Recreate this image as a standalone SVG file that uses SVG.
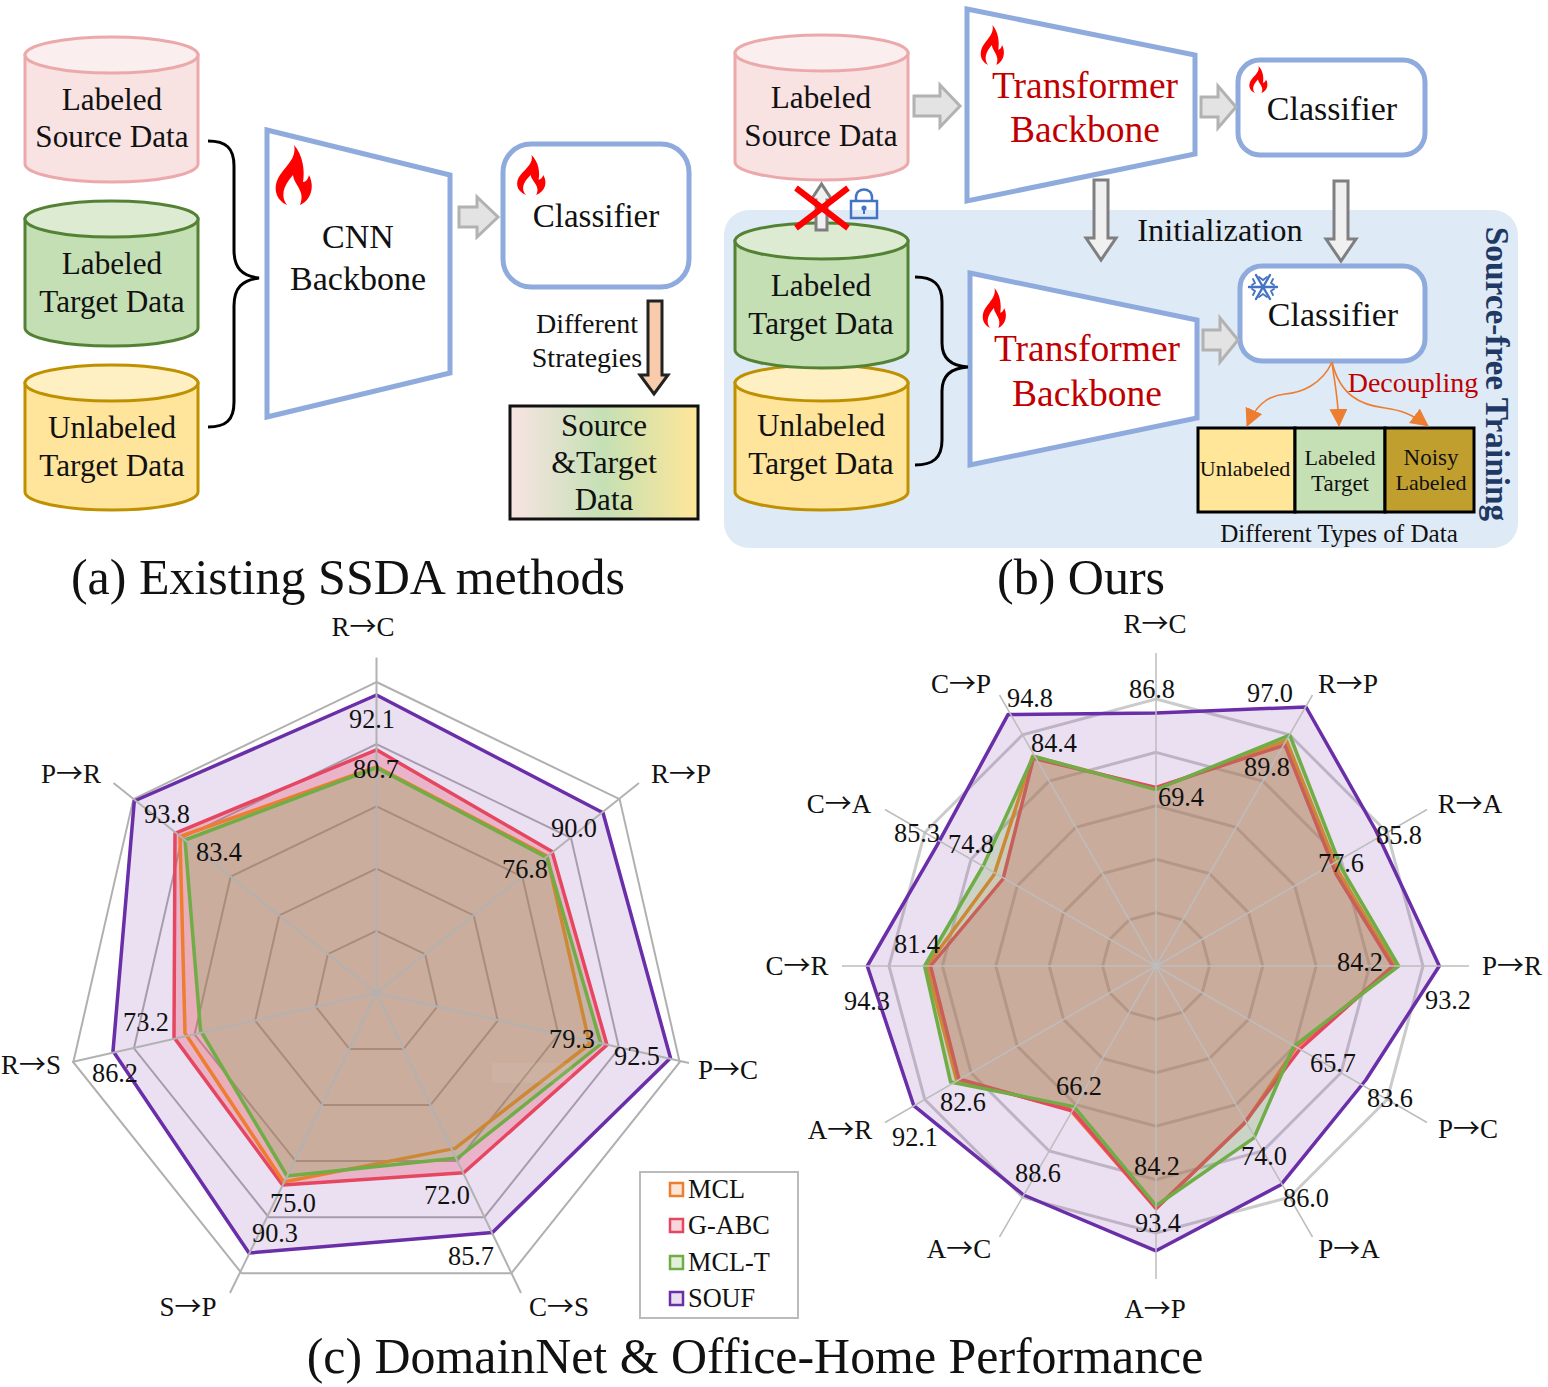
<svg xmlns="http://www.w3.org/2000/svg" width="1548" height="1387" viewBox="0 0 1548 1387">
<style>
text{font-family:"Liberation Serif","Times New Roman",serif;fill:#111;text-anchor:middle}
.t30{font-size:31.200px}.t33{font-size:34px}.t27{font-size:28px}.t31{font-size:31px}.t23{font-size:23px}
.tr{font-size:37.500px;fill:#c00000}.cap{font-size:50px}.rl{font-size:26.300px}.ax{font-size:27px}
.ar{font-family:"Noto Sans CJK SC",sans-serif}
.blk{fill:#fff;stroke:#8faadc;stroke-width:5}
.src{fill:#f8e2e2;stroke:#eba9ab;stroke-width:3}.src .top{fill:#fbeeee}
.tgt{fill:#c5dfb5;stroke:#548235;stroke-width:3}.tgt .top{fill:#dcebd2}
.unl{fill:#ffe49b;stroke:#bf9000;stroke-width:3}.unl .top{fill:#fff0c4}
.gray{fill:#e3e3e3;stroke:#b2b2b2;stroke-width:3}
.init{fill:#f0f0f0;stroke:#7f7f7f;stroke-width:3}
.brace{fill:none;stroke:#000;stroke-width:3}
.dec{fill:none;stroke:#ed7d31;stroke-width:1.6}
.ringL{fill:none;stroke:#b0b0b0;stroke-width:2}
.ringR{fill:none;stroke:#cbcbcb;stroke-width:3}
#ring7,#ring12{vector-effect:non-scaling-stroke}
.axL{stroke:#b2b2b2;stroke-width:2}.axR{stroke:#bdbdbd;stroke-width:1.5}
.s-souf{fill:#7030a0;fill-opacity:.15;stroke:#6a2ea8;stroke-width:3.5;stroke-linejoin:round}
.s-gabc{fill:#e64660;fill-opacity:.28;stroke:#e64660;stroke-width:3.5;stroke-linejoin:round}
.s-mcl{fill:#ed7d31;fill-opacity:.1;stroke:#ed7d31;stroke-width:3.5;stroke-linejoin:round}
.s-mclt{fill:#70ad47;fill-opacity:.25;stroke:#70ad47;stroke-width:3.5;stroke-linejoin:round}
.red{stroke:#ff0000;stroke-width:6}
.lock{fill:none;stroke:#4472c4;stroke-width:2.5}
.snow{stroke:#4472c4;stroke-width:2.4;fill:none;stroke-linecap:round}
</style>
<defs>
<linearGradient id="mix" x1="0" x2="1" y1="0" y2="0"><stop offset="0" stop-color="#f8e4e3"/><stop offset=".5" stop-color="#c5e0b4"/><stop offset="1" stop-color="#ffe699"/></linearGradient>
<path id="body" d="M0 18V127A86.5 18 0 0 0 173 127V18Z"/>
<ellipse id="lid" cx="86.5" cy="18" rx="86.5" ry="18"/>
<symbol id="flame" viewBox="0 0 42 60" preserveAspectRatio="none"><path fill="#ff0000" d="M21 0C24 12 14 20 7 30C0 40 1 54 14 60C8 52 9 42 20 30C21 40 33 46 27 60C38 55 42 42 36 30C35 34 33 37 30 37C32 26 30 10 21 0Z"/></symbol>
<polygon id="ring7" points="0,-311 243.1,-193.9 303.2,69.2 134.9,280.2 -134.9,280.2 -303.2,69.2 -243.1,-193.9"/>
<polygon id="ring12" points="0,-267 133.5,-231.2 231.2,-133.5 267,0 231.2,133.5 133.5,231.2 0,267 -133.5,231.2 -231.2,133.5 -267,0 -231.2,-133.5 -133.5,-231.2"/>
<marker id="oh" markerUnits="userSpaceOnUse" markerWidth="20" markerHeight="20" refX="17" refY="9" orient="auto"><path d="M0 0L18 9L0 18Z" fill="#ed7d31"/></marker>
</defs>
<rect width="1548" height="1387" fill="#fff"/>
<rect id="panel" x="724" y="210" width="794" height="338" rx="25" fill="#deeaf6"/>

<g id="a-source" class="src" transform="translate(25 37)"><use href="#body"/><use href="#lid" class="top"/></g>
<g id="a-target" class="tgt" transform="translate(25 201)"><use href="#body"/><use href="#lid" class="top"/></g>
<g id="a-unlabeled" class="unl" transform="translate(25 365)"><use href="#body"/><use href="#lid" class="top"/></g>
<text class="t30" x="112" y="109.500">Labeled</text><text class="t30" x="112" y="147">Source Data</text>
<text class="t30" x="112" y="274">Labeled</text><text class="t30" x="112" y="312">Target Data</text>
<text class="t30" x="112" y="438">Unlabeled</text><text class="t30" x="112" y="476">Target Data</text>

<g id="a-cnn"><polygon class="blk" points="267,130 450,175 450,373 267,417"/><use href="#flame" x="273" y="145" width="42" height="60"/><text class="t33" x="358" y="248">CNN</text><text class="t33" x="358" y="290">Backbone</text></g>
<g id="a-classifier"><rect class="blk" x="503" y="144" width="186" height="143" rx="28"/><use href="#flame" x="515" y="155" width="33" height="40"/><text class="t33" x="596" y="227" style="font-size:33px">Classifier</text></g>
<g id="a-data"><rect x="510" y="406" width="188" height="113" fill="url(#mix)" stroke="#111" stroke-width="3"/><text class="t31" x="604" y="436">Source</text><text class="t31" x="604" y="473" style="font-size:32px">&amp;Target</text><text class="t31" x="604" y="510">Data</text></g>
<text class="t27" x="587" y="333">Different</text><text class="t27" x="587" y="367">Strategies</text>

<g id="b-source" class="src" transform="translate(735 35)"><use href="#body"/><use href="#lid" class="top"/></g>
<g id="b-unlabeled" class="unl" transform="translate(735 365)"><use href="#body"/><use href="#lid" class="top"/></g>
<g id="b-target" class="tgt" transform="translate(735 223)"><use href="#body"/><use href="#lid" class="top"/></g>
<text class="t30" x="821" y="108">Labeled</text><text class="t30" x="821" y="146">Source Data</text>
<text class="t30" x="821" y="296">Labeled</text><text class="t30" x="821" y="334">Target Data</text>
<text class="t30" x="821" y="436">Unlabeled</text><text class="t30" x="821" y="474">Target Data</text>

<g id="b-transformer-top"><polygon class="blk" points="967,9 1195,55 1195,154 967,201"/><use href="#flame" x="979" y="25" width="27" height="40"/><text class="tr" x="1085" y="98">Transformer</text><text class="tr" x="1085" y="142">Backbone</text></g>
<g id="b-classifier-top"><rect class="blk" x="1238" y="60" width="187" height="95" rx="22"/><use href="#flame" x="1248" y="66" width="21" height="27"/><text class="t33" x="1332" y="120">Classifier</text></g>
<g id="b-transformer-low"><polygon class="blk" points="970,273 1197,320 1197,418 970,465"/><use href="#flame" x="981" y="288" width="27" height="40"/><text class="tr" x="1087" y="361">Transformer</text><text class="tr" x="1087" y="406">Backbone</text></g>
<g id="b-classifier-low"><rect class="blk" x="1240" y="266" width="185" height="95" rx="22"/>
<g class="snow" transform="translate(1263 287)"><path d="M-14 0H14M-7 -12L7 12M7 -12L-7 12"/><path d="M-4 -10L0 -7L4 -10M-4 10L0 7L4 10M-11 -2L-8 -4L-10 -8M11 -2L8 -4L10 -8M-11 2L-8 4L-10 8M11 2L8 4L10 8" stroke-width="1.8"/></g>
<text class="t33" x="1333" y="326">Classifier</text></g>
<g id="b-types">
<rect x="1198" y="428" width="97" height="84" fill="#ffe699" stroke="#000" stroke-width="3"/>
<rect x="1295" y="428" width="90" height="84" fill="#c5e0b4" stroke="#000" stroke-width="3"/>
<rect x="1385" y="428" width="89" height="84" fill="#c19f2f" stroke="#000" stroke-width="3"/>
<text class="t23" x="1245" y="476" style="font-size:22px">Unlabeled</text>
<text class="t23" x="1340" y="465" style="font-size:22px">Labeled</text><text class="t23" x="1340" y="491">Target</text>
<text class="t23" x="1431" y="465">Noisy</text><text class="t23" x="1431" y="490" style="font-size:22px">Labeled</text>
<text x="1339" y="542" style="font-size:25.100px">Different Types of Data</text>
</g>
<text x="1220" y="241" style="font-size:32.400px">Initialization</text>
<text x="1413" y="392" style="font-size:28px;fill:#c00000">Decoupling</text>
<text transform="translate(1486 374) rotate(90)" style="font-size:33.300px;font-weight:bold;fill:#1f3864">Source-free Training</text>

<g id="connectors">
<path class="brace" d="M208 141C226 141 234 148 234 166V250C234 268 242 276 259 278C242 280 234 288 234 306V402C234 420 226 427 208 427"/>
<path class="brace" d="M915 277C933 277 942 284 942 302V343C942 358 950 366 968 367C950 368 942 376 942 391V440C942 458 933 465 915 465"/>
<polygon class="gray" points="459,207 477,207 477,197 498,217 477,237 477,227 459,227"/>
<polygon class="gray" points="914,96 940,96 940,85 960,106 940,127 940,116 914,116"/>
<polygon class="gray" points="1201,97 1218,97 1218,86 1236,107 1218,128 1218,117 1201,117"/>
<polygon class="gray" points="1203,330 1220,330 1220,318 1238,340 1220,362 1220,350 1203,350"/>
<polygon points="648,301 662,301 662,375 668,375 654,394 640,375 648,375" fill="#f8cbad" stroke="#222" stroke-width="3"/>
<polygon class="init" points="1094,180 1108,180 1108,238 1116,238 1101,260 1086,238 1094,238"/>
<polygon class="init" points="1334,181 1348,181 1348,239 1356,239 1341,261 1326,239 1334,239"/>
<polygon class="init" points="816,230 827,230 827,200 832,200 821.500,184 811,200 816,200"/>
<path class="red" d="M796 188L848 228M848 188L796 228"/>
<g id="lock"><rect class="lock" x="851" y="201" width="26" height="17"/><path class="lock" d="M856 201V197C856 187 872 187 872 197V201"/><circle cx="864" cy="208" r="2.600" fill="#4472c4"/><rect x="863" y="208" width="2" height="6" fill="#4472c4"/></g>
<path class="dec" marker-end="url(#oh)" d="M1332 362C1322 385 1300 393 1285 394C1265 396 1255 408 1247 426"/>
<path class="dec" marker-end="url(#oh)" d="M1332 362C1334 380 1338 395 1339 426"/>
<path class="dec" marker-end="url(#oh)" d="M1332 362C1340 395 1360 405 1385 408C1400 410 1412 414 1428 426"/>
</g>

<text class="cap" x="348" y="594">(a) Existing SSDA methods</text>
<text class="cap" x="1081" y="594">(b) Ours</text>
<text class="cap" x="755" y="1373" style="font-size:49.900px">(c) DomainNet &amp; Office-Home Performance</text>

<g id="radar-left">
<g class="ringL">
<use href="#ring7" transform="translate(376.500 993) scale(.2)"/><use href="#ring7" transform="translate(376.500 993) scale(.4)"/><use href="#ring7" transform="translate(376.500 993) scale(.6)"/><use href="#ring7" transform="translate(376.500 993) scale(.8)"/><use href="#ring7" transform="translate(376.500 993)"/>
</g>
<polygon class="s-souf" points="376.500,695 603,812.700 670.500,1058 492.500,1232.400 249,1253 113,1051 134.300,801"/>
<polygon class="s-gabc" points="376.500,749.800 552,851.600 607,1045 463.700,1172.800 282.600,1185 174,1037.400 175,833.300"/>
<polygon class="s-mcl" points="376.500,766.800 547,856 589.600,1044 455,1148.400 283.600,1182 185,1033 180,836.500"/>
<polygon class="s-mclt" points="376.500,767.700 547,857.600 601,1044 457.700,1158 287,1176 200.500,1030.500 185,840"/>
<g class="axL"><path d="M376.500 993V657.500M376.500 993L639 783M376.500 993L689 1063M376.500 993L521 1293M376.500 993L230 1293M376.500 993L72 1062M376.500 993L113.500 783"/></g>
<rect x="492" y="1063" width="80" height="20" fill="#fff" opacity=".07"/>
</g>
<g id="radar-left-labels">
<text class="ax" x="363" y="636">R<tspan class="ar">→</tspan>C</text><text class="ax" x="681" y="783">R<tspan class="ar">→</tspan>P</text><text class="ax" x="728" y="1079">P<tspan class="ar">→</tspan>C</text><text class="ax" x="559" y="1316">C<tspan class="ar">→</tspan>S</text><text class="ax" x="188" y="1316">S<tspan class="ar">→</tspan>P</text><text class="ax" x="31" y="1074">R<tspan class="ar">→</tspan>S</text><text class="ax" x="71" y="783">P<tspan class="ar">→</tspan>R</text>
<text class="rl" x="372" y="728">92.1</text><text class="rl" x="376" y="778">80.7</text><text class="rl" x="574" y="837">90.0</text><text class="rl" x="525" y="878">76.8</text><text class="rl" x="572" y="1048">79.3</text><text class="rl" x="637" y="1065">92.5</text><text class="rl" x="447" y="1204">72.0</text><text class="rl" x="471" y="1265">85.7</text><text class="rl" x="293" y="1212">75.0</text><text class="rl" x="275" y="1242">90.3</text><text class="rl" x="146" y="1031">73.2</text><text class="rl" x="115" y="1082">86.2</text><text class="rl" x="167" y="823">93.8</text><text class="rl" x="219" y="861">83.4</text>
</g>

<g id="legend">
<rect x="640" y="1172" width="158" height="146" fill="#fff" stroke="#bbb" stroke-width="2"/>
<rect x="670" y="1183" width="13" height="13" fill="#fbe5d6" stroke="#ed7d31" stroke-width="2.500"/><text class="rl" x="688" y="1198" style="text-anchor:start">MCL</text>
<rect x="670" y="1219" width="13" height="13" fill="#f8d5da" stroke="#e64660" stroke-width="2.500"/><text class="rl" x="688" y="1234" style="text-anchor:start">G-ABC</text>
<rect x="670" y="1256" width="13" height="13" fill="#e2efd9" stroke="#70ad47" stroke-width="2.500"/><text class="rl" x="688" y="1271" style="text-anchor:start">MCL-T</text>
<rect x="670" y="1292" width="13" height="13" fill="#e8def0" stroke="#6a2ea8" stroke-width="2.500"/><text class="rl" x="688" y="1307" style="text-anchor:start">SOUF</text>
</g>

<g id="radar-right">
<g class="ringR">
<use href="#ring12" transform="translate(1156 966) scale(.2)"/><use href="#ring12" transform="translate(1156 966) scale(.4)"/><use href="#ring12" transform="translate(1156 966) scale(.6)"/><use href="#ring12" transform="translate(1156 966) scale(.8)"/><use href="#ring12" transform="translate(1156 966)"/>
</g>
<polygon class="s-souf" points="1156,713 1306,707 1375.600,830 1439.300,966 1365.800,1080 1281,1184.700 1156,1250.800 1023.600,1195 913.800,1105.700 867.300,966 937,845.400 1008,714.600"/>
<polygon class="s-mcl" points="1156,788.800 1286.400,740.500 1338.800,872.200 1395,966 1296,1047 1245.700,1122 1156,1208.400 1069.200,1108.800 956.500,1079.800 927,966 994.200,874.500 1032.500,756.200"/>
<polygon class="s-gabc" points="1156,787.400 1284.900,745 1336.400,874.500 1392.700,966 1300,1049 1243.200,1124.500 1156,1208.400 1072.600,1111 958.900,1079 930.500,966 1003,879 1033.400,758.400"/>
<polygon class="s-mclt" points="1156,789.600 1289.800,735.200 1341.300,867.800 1398.600,966 1293.700,1046.300 1254,1137.900 1156,1205.700 1074,1106.600 950.600,1082 924.600,966 983.400,865.500 1033.400,756.200"/>
<g class="axR"><path d="M1156 966V653M1156 966L1312.500 695M1156 966L1427 809.500M1156 966H1469M1156 966L1427 1122.500M1156 966L1312.500 1237M1156 966V1279M1156 966L999.500 1237M1156 966L885 1122.500M1156 966H842M1156 966L885 809.500M1156 966L999.500 695"/></g>
</g>
<g id="radar-right-labels">
<text class="ax" x="1155" y="633">R<tspan class="ar">→</tspan>C</text><text class="ax" x="1348" y="693">R<tspan class="ar">→</tspan>P</text><text class="ax" x="1470" y="813">R<tspan class="ar">→</tspan>A</text><text class="ax" x="1512" y="975">P<tspan class="ar">→</tspan>R</text><text class="ax" x="1468" y="1138">P<tspan class="ar">→</tspan>C</text><text class="ax" x="1349" y="1258">P<tspan class="ar">→</tspan>A</text><text class="ax" x="1155" y="1318">A<tspan class="ar">→</tspan>P</text><text class="ax" x="959" y="1258">A<tspan class="ar">→</tspan>C</text><text class="ax" x="840" y="1139">A<tspan class="ar">→</tspan>R</text><text class="ax" x="797" y="975">C<tspan class="ar">→</tspan>R</text><text class="ax" x="839" y="813">C<tspan class="ar">→</tspan>A</text><text class="ax" x="961" y="693">C<tspan class="ar">→</tspan>P</text>
<text class="rl" x="1152" y="698">86.8</text><text class="rl" x="1181" y="806">69.4</text><text class="rl" x="1270" y="702">97.0</text><text class="rl" x="1267" y="776">89.8</text><text class="rl" x="1399" y="844">85.8</text><text class="rl" x="1341" y="872">77.6</text><text class="rl" x="1360" y="971">84.2</text><text class="rl" x="1448" y="1009">93.2</text><text class="rl" x="1333" y="1072">65.7</text><text class="rl" x="1390" y="1107">83.6</text><text class="rl" x="1264" y="1165">74.0</text><text class="rl" x="1306" y="1207">86.0</text><text class="rl" x="1157" y="1175">84.2</text><text class="rl" x="1158" y="1232">93.4</text><text class="rl" x="1079" y="1095">66.2</text><text class="rl" x="1038" y="1182">88.6</text><text class="rl" x="963" y="1111">82.6</text><text class="rl" x="915" y="1146">92.1</text><text class="rl" x="917" y="953">81.4</text><text class="rl" x="867" y="1010">94.3</text><text class="rl" x="917" y="842">85.3</text><text class="rl" x="971" y="853">74.8</text><text class="rl" x="1030" y="707">94.8</text><text class="rl" x="1054" y="752">84.4</text>
</g>
</svg>
